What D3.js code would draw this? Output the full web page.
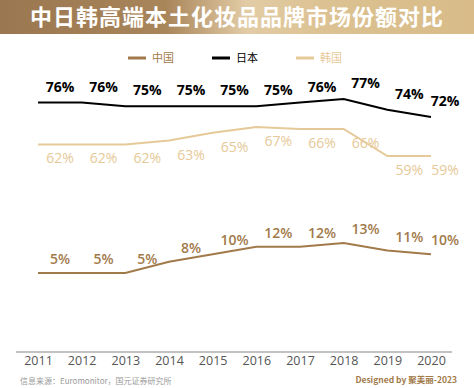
<!DOCTYPE html>
<html>
<head>
<meta charset="utf-8">
<script src="https://cdn.jsdelivr.net/npm/d3@7"></script>
<style>
  body { margin: 0; background: #fff; }
  svg { display: block; font-family: "Noto Sans CJK SC", "Open Sans", sans-serif; }
</style>
</head>
<body>
<svg id="chart" width="474" height="388"></svg>
<script>
var years = ["2011", "2012", "2013", "2014", "2015", "2016", "2017", "2018", "2019", "2020"];
var chinaShare = [5, 5, 5, 8, 10, 12, 12, 13, 11, 10];
var japanShare = [76, 76, 75, 75, 75, 75, 76, 77, 74, 72];
var koreaShare = [62, 62, 62, 63, 65, 67, 66, 66, 59, 59];
var seriesNames = ["中国", "日本", "韩国"];

var titleText = "中日韩高端本土化妆品品牌市场份额对比";
var sourceText = "信息来源：Euromonitor，国元证券研究所";
var creditText = "Designed by 聚美丽-2023";

var colors = { "中国": "#a27a4a", "日本": "#000000", "韩国": "#e6c998" };

document.addEventListener('DOMContentLoaded', function () {
    drawChart();
});

function drawChart() {
    var svg = d3.select('#chart');

    // title bar with gradient
    var defs = svg.append('defs');
    var grad = defs.append('linearGradient').attr('id', 'titleGrad')
        .attr('x1', '0%').attr('x2', '100%');
    grad.append('stop').attr('offset', '0%').attr('stop-color', '#9a7750');
    grad.append('stop').attr('offset', '35%').attr('stop-color', '#a9855a');
    grad.append('stop').attr('offset', '52%').attr('stop-color', '#e2cca6');
    grad.append('stop').attr('offset', '68%').attr('stop-color', '#dcc292');
    grad.append('stop').attr('offset', '100%').attr('stop-color', '#d8bb88');

    svg.append('rect').attr('x', 0).attr('y', 0).attr('width', 474).attr('height', 34)
        .attr('fill', 'url(#titleGrad)');
    svg.append('text').attr('x', 237).attr('y', 25)
        .attr('text-anchor', 'middle')
        .style('font-size', '22px').style('font-weight', 'bold')
        .style('letter-spacing', '1px')
        .attr('fill', '#fff').text(titleText);

    // scales (the y axis is broken between the series bands)
    var x = d3.scalePoint().domain(years).range([38, 431]);
    var y = d3.scaleLinear().domain([5, 13, 59, 66, 72, 77]).range([273, 243, 156, 129, 117, 99]);

    // axis
    var xAxis = d3.axisBottom(x).tickSize(0).tickPadding(4);
    var gx = svg.append('g').attr('transform', 'translate(0,352)').call(xAxis);
    gx.select('.domain').remove();
    gx.selectAll('text').style('font-size', '12.5px').style('font-family', '"Open Sans", sans-serif')
        .attr('fill', '#555');
    svg.append('line').attr('x1', 16).attr('x2', 452).attr('y1', 352).attr('y2', 352)
        .attr('stroke', '#c2c2c2').attr('stroke-width', 2);

    var series = [
        { name: "日本", values: japanShare, dy: -16, weight: 'bold' },
        { name: "韩国", values: koreaShare, dy: 14, weight: 'normal' },
        { name: "中国", values: chinaShare, dy: -14, weight: '600' }
    ];

    var line = d3.line()
        .x(function (d, i) { return x(years[i]); })
        .y(function (d) { return y(d); });

    series.forEach(function (s) {
        svg.append('path').datum(s.values)
            .attr('d', line)
            .attr('fill', 'none')
            .attr('stroke', colors[s.name])
            .attr('stroke-width', 2);

        svg.selectAll('.lbl-' + s.name)
            .data(s.values)
            .enter()
            .append('text')
            .attr('class', 'lbl-' + s.name)
            .attr('x', function (d, i) { return i === years.length - 1 ? x(years[i]) + 14 : x(years[i]) + 22; })
            .attr('y', function (d) { return y(d) + s.dy + 5; })
            .attr('text-anchor', 'middle')
            .style('font-size', '14px')
            .style('font-weight', s.weight)
            .style('font-family', '"Open Sans", sans-serif')
            .attr('fill', colors[s.name])
            .text(function (d) { return d + '%'; });
    });

    // legend
    var legendX = [128, 212, 296];
    var legend = svg.selectAll('.legend')
        .data(seriesNames)
        .enter()
        .append('g')
        .attr('class', 'legend')
        .attr('transform', function (d, i) { return 'translate(' + legendX[i] + ',58)'; });
    legend.append('line').attr('x1', 0).attr('x2', 18).attr('y1', 0).attr('y2', 0)
        .attr('stroke', function (d) { return colors[d]; }).attr('stroke-width', 3);
    legend.append('text').attr('x', 24).attr('y', 4)
        .style('font-size', '11px')
        .attr('fill', function (d) { return colors[d]; })
        .text(function (d) { return d; });

    // footer
    svg.append('text').attr('x', 20).attr('y', 384)
        .style('font-size', '8px').attr('fill', '#9a9a9a').text(sourceText);
    svg.append('text').attr('x', 457).attr('y', 383).attr('text-anchor', 'end')
        .style('font-size', '8.5px').style('font-weight', 'bold')
        .attr('fill', '#a27a4a').text(creditText);
}
</script>
</body>
</html>
